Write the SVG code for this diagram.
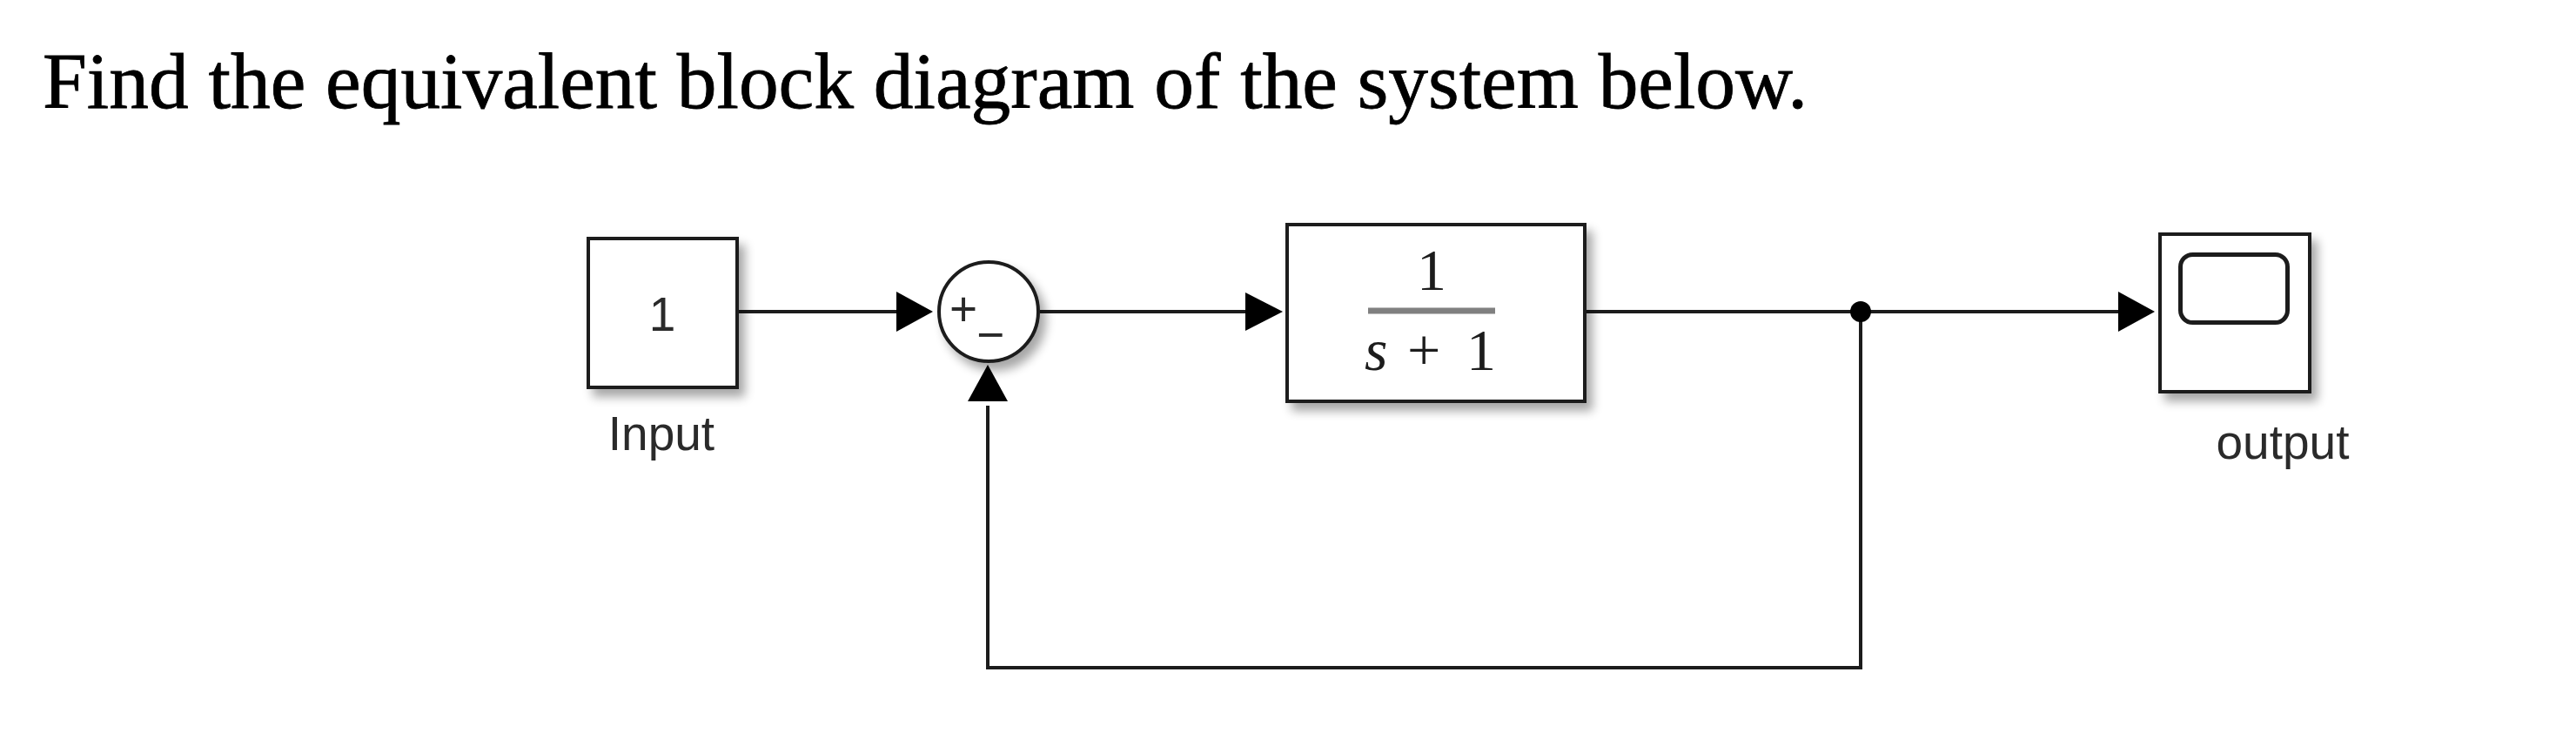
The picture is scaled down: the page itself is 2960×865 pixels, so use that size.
<svg xmlns="http://www.w3.org/2000/svg" width="2960" height="865" viewBox="0 0 2960 865">
<style>
.blk{fill:#fff;stroke:#1c1c1c;stroke-width:4}
.wire{fill:none;stroke:#1c1c1c;stroke-width:4}
.ah{fill:#000}
.lbl{font-family:"Liberation Sans",Arial,sans-serif;font-size:55px;fill:#2a2a2a}
.math{font-family:"Liberation Serif","Times New Roman",serif;font-size:68px;fill:#1c1c1c}
.title{font-family:"Liberation Serif","Times New Roman",serif;font-size:92px;fill:#000;stroke:#000;stroke-width:0.8}
</style>
<defs>
<filter id="sh" x="-20%" y="-20%" width="150%" height="150%">
<feGaussianBlur in="SourceAlpha" stdDeviation="6"/>
<feOffset dx="7" dy="9" result="b"/>
<feComponentTransfer><feFuncA type="linear" slope="0.35"/></feComponentTransfer>
<feMerge><feMergeNode/><feMergeNode in="SourceGraphic"/></feMerge>
</filter>
</defs>
<rect width="2960" height="865" fill="#fff"/>
<g id="title">
<text class="title" x="49" y="124" textLength="2028" lengthAdjust="spacingAndGlyphs">Find the equivalent block diagram of the system below.</text>
</g>
<g id="connectors">
<line class="wire" x1="849" y1="358" x2="1032" y2="358"/>
<polygon class="ah" points="1030,335 1072,358 1030,381"/>
<line class="wire" x1="1195" y1="358" x2="1433" y2="358"/>
<polygon class="ah" points="1431,336 1474,358 1431,380"/>
<line class="wire" x1="1823" y1="358" x2="2436" y2="358"/>
<polygon class="ah" points="2434,335 2476,358 2434,381"/>
<polyline class="wire" points="2138,358 2138,767 1135,767 1135,466"/>
<polygon class="ah" points="1112,461 1135,419 1158,461"/>
<circle cx="2138" cy="358" r="12" fill="#000"/>
</g>
<g id="input">
<rect class="blk" x="676" y="274" width="171" height="171" filter="url(#sh)"/>
<text class="lbl" x="761" y="380" text-anchor="middle">1</text>
<text class="lbl" x="760" y="517" text-anchor="middle">Input</text>
</g>
<g id="sum">
<circle class="blk" cx="1136" cy="358" r="57" filter="url(#sh)"/>
<text class="lbl" x="1107" y="374" text-anchor="middle" font-size="46">+</text>
<text class="lbl" x="1138" y="403" text-anchor="middle" font-size="50">−</text>
</g>
<g id="tf">
<rect class="blk" x="1479" y="258" width="342" height="203" filter="url(#sh)"/>
<text class="math" x="1645" y="333" text-anchor="middle">1</text>
<line x1="1572" y1="357" x2="1718" y2="357" stroke="#808080" stroke-width="7"/>
<text class="math" y="425"><tspan x="1568" font-style="italic">s</tspan><tspan x="1617">+</tspan><tspan x="1685">1</tspan></text>
</g>
<g id="scope">
<rect class="blk" x="2482" y="269" width="172" height="181" filter="url(#sh)"/>
<rect x="2505.5" y="292.5" width="123" height="78" rx="14" fill="none" stroke="#1c1c1c" stroke-width="5"/>
<text class="lbl" x="2623" y="527" text-anchor="middle">output</text>
</g>
</svg>
